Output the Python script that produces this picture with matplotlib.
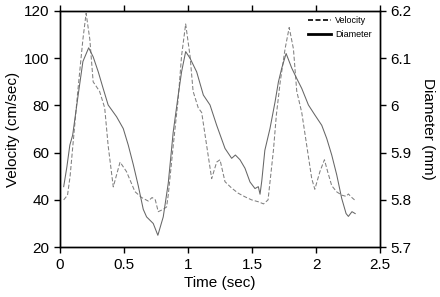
import matplotlib
matplotlib.use("Agg")
import matplotlib.pyplot as plt
from matplotlib.lines import Line2D
from matplotlib.ticker import FuncFormatter

plt.rcParams['font.family'] = ['Liberation Sans', 'DejaVu Sans']

# velocity trace (cm/sec)
vel_t = [0.03, 0.06, 0.08, 0.10, 0.14, 0.18, 0.205, 0.234, 0.26, 0.31, 0.35, 0.377,
         0.417, 0.47, 0.52, 0.586, 0.638, 0.69, 0.72, 0.745, 0.768, 0.807, 0.833,
         0.846, 0.885, 0.924, 0.95, 0.982, 1.016, 1.04, 1.08, 1.107, 1.146, 1.185,
         1.224, 1.25, 1.289, 1.341, 1.393, 1.445, 1.497, 1.549, 1.59, 1.625, 1.645,
         1.667, 1.69, 1.72, 1.758, 1.79, 1.823, 1.849, 1.888, 1.927, 1.966, 1.99,
         2.03, 2.065, 2.09, 2.122, 2.161, 2.2, 2.234, 2.252, 2.279, 2.3]
vel = [40, 42, 50, 62, 86, 108, 119, 108, 90, 86, 79, 63,
       45.5, 56, 52, 43.5, 41, 39.5, 41, 40, 35, 36, 37,
       42, 63, 83, 101, 114.5, 101, 86, 79, 77, 63, 49,
       56, 57, 47.7, 45, 42.8, 41.3, 40, 39.2, 38.3, 40, 50,
       61, 76, 90, 104, 113, 104, 86, 77, 63, 49, 44.5,
       52, 57, 52, 46, 43.4, 42, 41.5, 42.5, 41, 40]

# vessel diameter trace (mm)
dia_t = [0.03, 0.055, 0.078, 0.10, 0.143, 0.18, 0.225, 0.26, 0.30, 0.338, 0.377,
         0.443, 0.495, 0.534, 0.573, 0.612, 0.651, 0.677, 0.729, 0.765, 0.807,
         0.846, 0.885, 0.924, 0.95, 0.982, 1.016, 1.068, 1.12, 1.172, 1.224, 1.289,
         1.341, 1.37, 1.406, 1.445, 1.484, 1.523, 1.549, 1.5625, 1.576, 1.60, 1.64,
         1.68, 1.706, 1.732, 1.766, 1.81, 1.849, 1.888, 1.94, 1.99, 2.044, 2.083,
         2.122, 2.161, 2.2, 2.234, 2.252, 2.28, 2.305]
dia = [5.828, 5.87, 5.916, 5.937, 6.022, 6.093, 6.122, 6.103, 6.071, 6.036, 6.001,
       5.976, 5.951, 5.916, 5.875, 5.83, 5.78, 5.764, 5.75, 5.725, 5.764,
       5.835, 5.944, 6.022, 6.071, 6.114, 6.10, 6.071, 6.022, 6.001, 5.958, 5.909,
       5.888, 5.895, 5.885, 5.867, 5.838, 5.824, 5.828, 5.812, 5.84, 5.905, 5.951,
       6.008, 6.05, 6.079, 6.11, 6.079, 6.057, 6.036, 6.001, 5.98, 5.958, 5.93,
       5.895, 5.853, 5.803, 5.771, 5.765, 5.775, 5.771]

x_ticks = [0, 0.5, 1, 1.5, 2, 2.5]
vel_ticks = [20, 40, 60, 80, 100, 120]
dia_ticks = [5.7, 5.8, 5.9, 6.0, 6.1, 6.2]

fig = plt.figure(figsize=(4.4, 2.97), dpi=100)
ax = fig.add_axes([0.136, 0.168, 0.728, 0.795])
ax2 = ax.twinx()

ax.plot(vel_t, vel, color="#808080", lw=0.75, ls=(0, (4, 2)))
ax2.plot(dia_t, dia, color="#666666", lw=0.75)

ax.set_xlim(0, 2.5)
ax.set_ylim(20, 120)
ax2.set_ylim(5.7, 6.2)
ax.set_xticks(x_ticks)
ax.set_yticks(vel_ticks)
ax2.set_yticks(dia_ticks)
gfmt = FuncFormatter(lambda v, p: "%g" % round(v, 3))
ax.xaxis.set_major_formatter(gfmt)
ax2.yaxis.set_major_formatter(gfmt)

ax.tick_params(axis="x", direction="out", top=True, labelsize=11, length=4, width=1)
ax.tick_params(axis="y", direction="out", labelsize=11, length=4, width=1)
ax2.tick_params(axis="y", direction="out", labelsize=11, length=4, width=1)
for a in (ax, ax2):
    for s in a.spines.values():
        s.set_linewidth(1.0)

ax.set_xlabel("Time (sec)", fontsize=11, labelpad=3)
ax.set_ylabel("Velocity (cm/sec)", fontsize=11, labelpad=3)
ax2.set_ylabel("Diameter (mm)", fontsize=11, rotation=270, labelpad=17)

handles = [Line2D([], [], color="black", lw=1.2, ls=(0, (3, 1.5))),
           Line2D([], [], color="black", lw=2)]
ax.legend(handles, ["Velocity", "Diameter"], loc="upper right", frameon=False,
          fontsize=6.5, handlelength=2.6, handletextpad=0.4, labelspacing=0.5,
          borderaxespad=0.2, bbox_to_anchor=(0.99, 1.0))

fig.savefig("out.png", dpi=100)
